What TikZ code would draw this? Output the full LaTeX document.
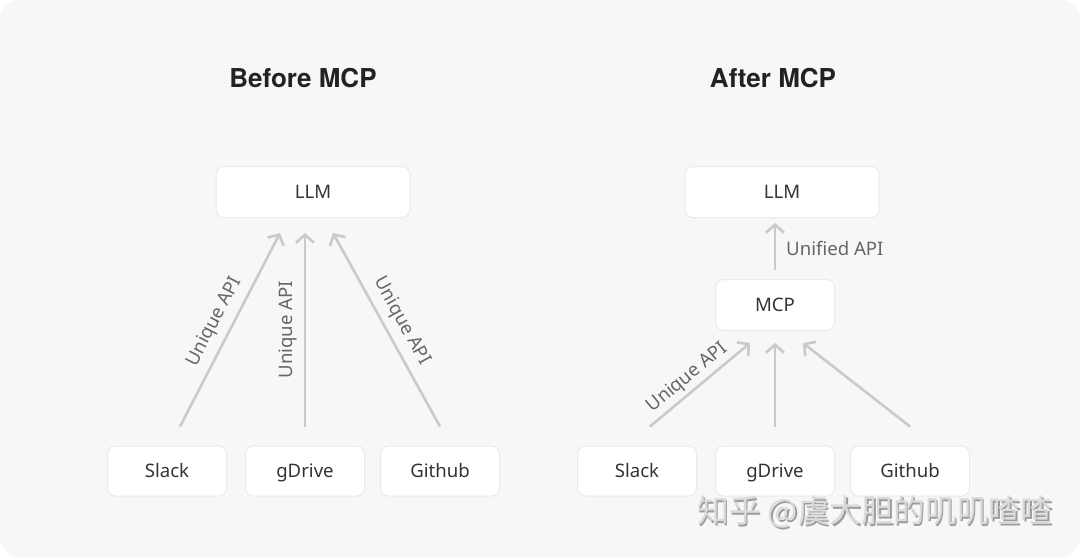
\documentclass[tikz,border=0pt]{standalone}
\usepackage{fontspec}
\setmainfont{Noto Sans}
\newfontfamily\titlefont{TeX Gyre Heros}
\newfontfamily\cjkfont{Noto Sans CJK SC}
\usetikzlibrary{arrows.meta}
\definecolor{bgc}{HTML}{F7F7F7}
\definecolor{boxline}{HTML}{EAEAEA}
\definecolor{arrc}{HTML}{CACACA}
\definecolor{txt}{HTML}{333333}
\definecolor{ttl}{HTML}{222222}
\definecolor{lbl}{HTML}{666666}
\definecolor{wmshadow}{HTML}{9C9C9C}
\definecolor{wmfill}{HTML}{DADADA}
\tikzset{
  box/.style={draw=boxline, line width=1pt, fill=white, rounded corners=8pt,
    inner sep=0pt, text=txt, font=\fontsize{18.6}{20}\selectfont,
    text height=13.5pt, text depth=1pt},
  bigbox/.style={box, minimum width=194pt, minimum height=51pt},
  smallbox/.style={box, minimum width=119pt, minimum height=50pt},
  conn/.style={draw=arrc, line width=2.6pt, -{Straight Barb[length=8pt,width=18pt,line width=2.6pt]}},
  apilabel/.style={text=lbl, font=\fontsize{18.6}{20}\selectfont, inner sep=0pt},
  titlestyle/.style={text=ttl, font=\titlefont\bfseries\fontsize{26}{28}\selectfont, inner sep=0pt},
}
\begin{document}
\begin{tikzpicture}[x=1pt,y=-1pt]
\useasboundingbox (0,0) rectangle (1080,557);
\fill[white] (0,0) rectangle (1080,557);
\fill[bgc, rounded corners=20pt] (0,0) rectangle (1080,557);

% Titles
\node[titlestyle] (t1) at (303,78) {Before MCP};
\node[titlestyle] (t2) at (773,78) {After MCP};

% Left panel
\node[bigbox] (llmA) at (313,192) {LLM};
\node[smallbox] (slackA) at (167,471) {Slack};
\node[smallbox] (gdriveA) at (305,471) {gDrive};
\node[smallbox] (githubA) at (440,471) {Github};

\draw[conn] ([xshift=13pt,yshift=19pt]slackA.north) -- node[apilabel, sloped, above=7pt, pos=0.5] {Unique API} ([xshift=-33pt,yshift=-15pt]llmA.south);
\draw[conn] ([yshift=19pt]gdriveA.north) -- node[apilabel, sloped, above=7pt, pos=0.5] {Unique API} ([xshift=-8pt,yshift=-15pt]llmA.south);
\draw[conn] ([yshift=19pt]githubA.north) -- node[apilabel, sloped, above=7pt, pos=0.5] {Unique API} ([xshift=20pt,yshift=-15pt]llmA.south);

% Right panel
\node[bigbox] (llmB) at (782,192) {LLM};
\node[smallbox, minimum height=51pt] (mcp) at (775,305) {MCP};
\node[smallbox] (slackB) at (637,471) {Slack};
\node[smallbox] (gdriveB) at (775,471) {gDrive};
\node[smallbox] (githubB) at (910,471) {Github};

\draw[conn] ([yshift=9pt]mcp.north) -- ([xshift=-7pt,yshift=-5pt]llmB.south);
\node[apilabel, anchor=west] (unified) at (786,248) {Unified API};

\draw[conn] ([xshift=13pt,yshift=19pt]slackB.north) -- node[apilabel, sloped, above=3pt, pos=0.46] {Unique API} ([xshift=-25pt,yshift=-12pt]mcp.south);
\draw[conn] ([yshift=19pt]gdriveB.north) -- ([yshift=-12pt]mcp.south);
\draw[conn] ([yshift=19pt]githubB.north) -- ([xshift=28pt,yshift=-12pt]mcp.south);

% Watermark
\node[anchor=west, inner sep=0pt, text=wmshadow, font=\cjkfont\fontsize{31.8}{34}\selectfont] (wm2) at (698.5,513.5) {知乎 @虞大胆的叽叽喳喳};
\node[anchor=west, inner sep=0pt, text=wmfill, font=\cjkfont\fontsize{31.8}{34}\selectfont] (wm) at (697,512) {知乎 @虞大胆的叽叽喳喳};
\end{tikzpicture}
\end{document}
